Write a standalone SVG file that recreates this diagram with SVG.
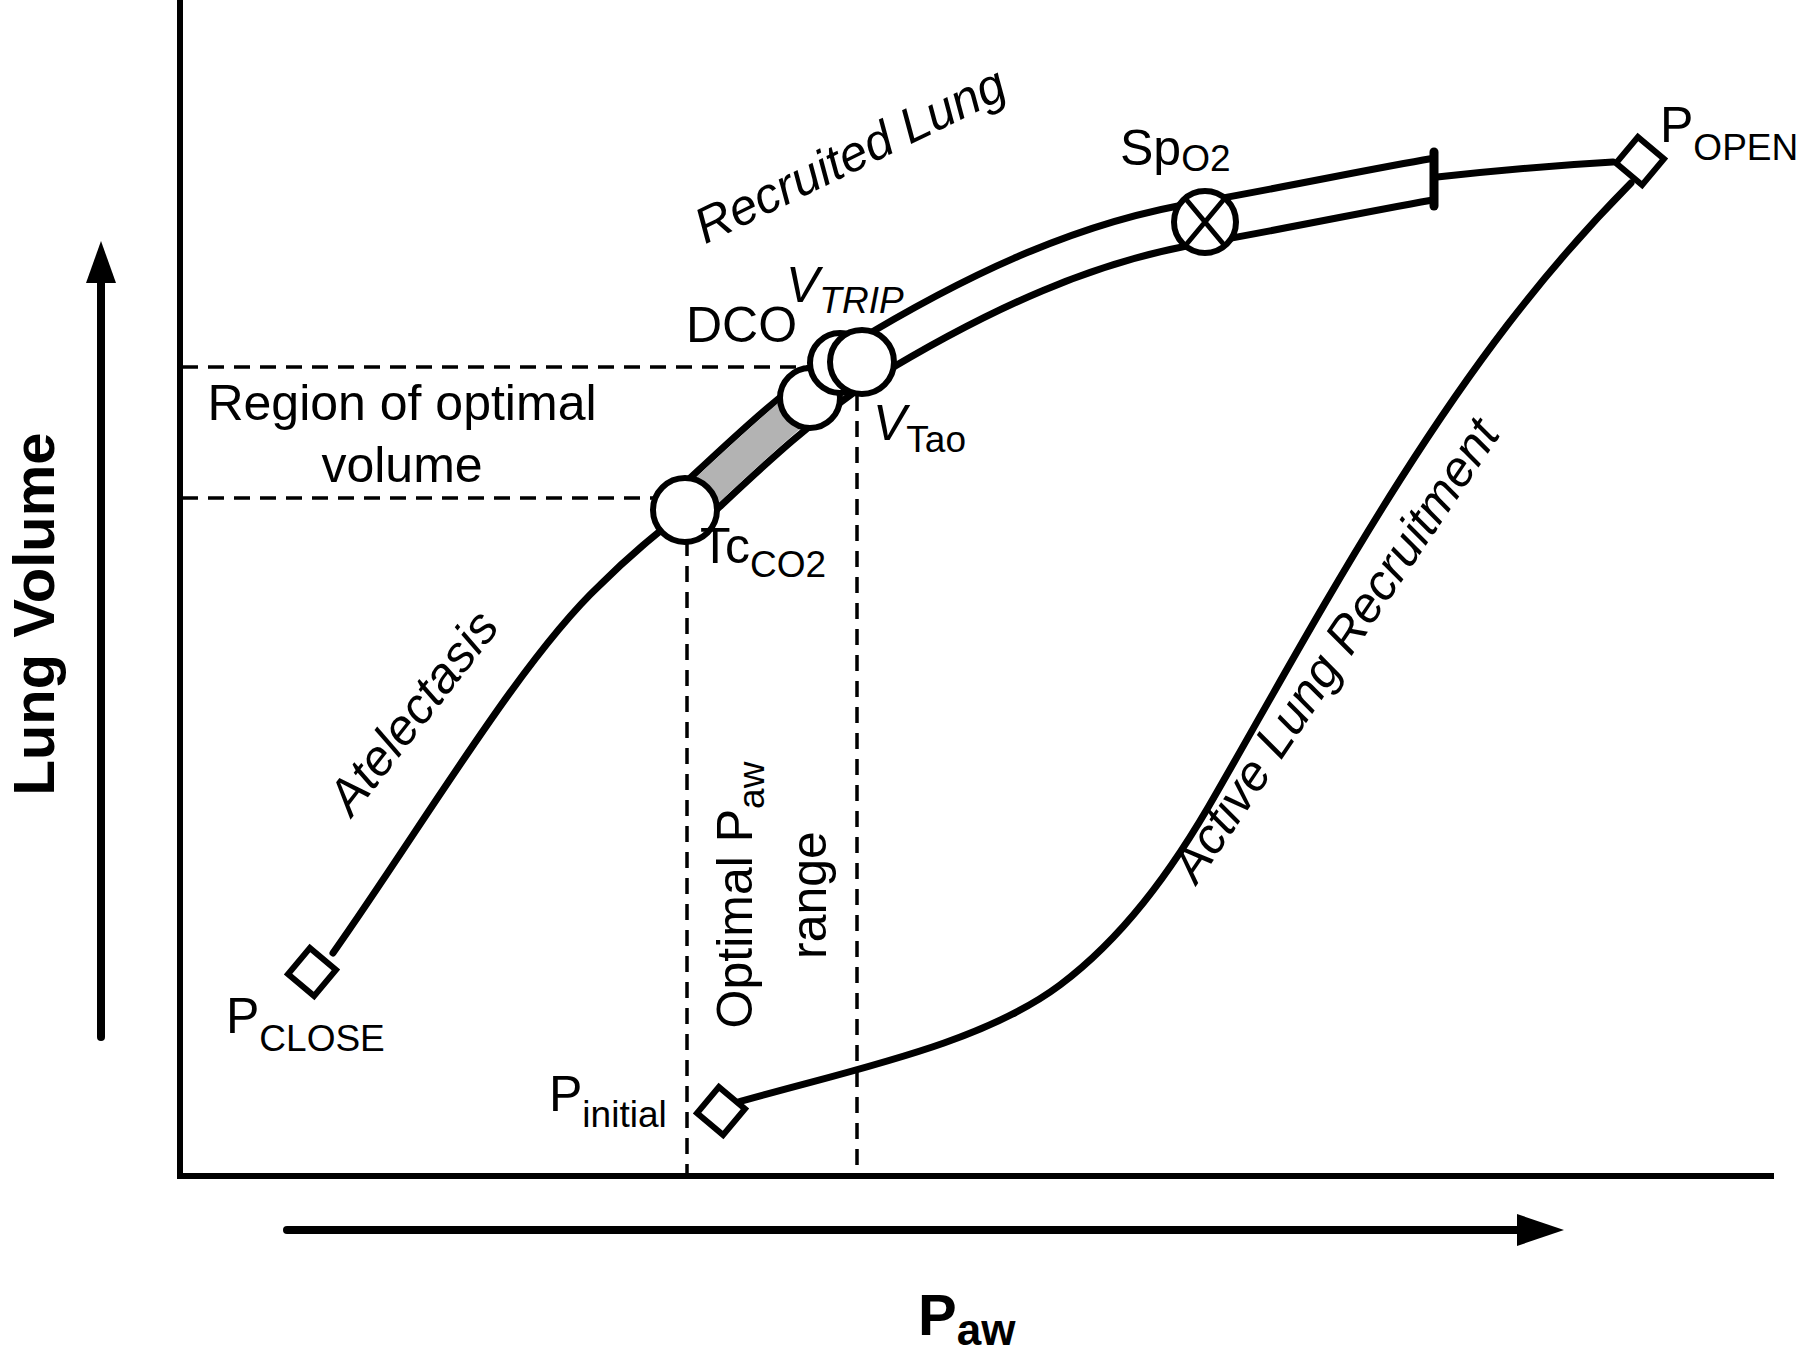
<svg xmlns="http://www.w3.org/2000/svg" width="1800" height="1362" viewBox="0 0 1800 1362">
<style>
text{font-family:"Liberation Sans",Arial,sans-serif;fill:#000}
.t{font-size:50px}.s{font-size:37px}.i{font-style:italic}
.ln{fill:none;stroke:#000;stroke-width:7;stroke-linecap:round}
.d{fill:none;stroke:#000;stroke-width:3.5;stroke-dasharray:16,10}
.c{fill:#fff;stroke:#000;stroke-width:6}
</style>
<rect width="1800" height="1362" fill="#fff"/>
<g id="axes">
<path d="M180,0V1176H1774" fill="none" stroke="#000" stroke-width="6"/>
<path d="M101,1037V270" stroke="#000" stroke-width="8" stroke-linecap="round"/>
<path d="M101,241L86,283H116Z"/>
<path d="M287,1230H1525" stroke="#000" stroke-width="8" stroke-linecap="round"/>
<path d="M1564,1230L1517,1214V1246Z"/>
<text x="34" y="614" font-size="58" font-weight="bold" text-anchor="middle" transform="rotate(-90 34 614)" dy="20">Lung Volume</text>
<text x="918" y="1335" font-size="58" font-weight="bold">P<tspan font-size="44" dy="10">aw</tspan></text>
</g>
<g id="connectors">
<path class="d" d="M182,367H815M182,498H660M687,540V1176M857,395V1176"/>
<path class="ln" d="M333,953C420,830 520,660 600,585C630,555 655,535 685,511"/>
<path d="M685,511C740,460 790,410 862,362C980,290 1090,240 1205,222C1300,205 1380,188 1434,179" fill="none" stroke="#000" stroke-width="48"/>
<path d="M685,511C740,460 790,410 862,362C980,290 1090,240 1205,222C1300,205 1380,188 1434,179" fill="none" stroke="#fff" stroke-width="34"/>
<path d="M685,511C720,478 760,440 810,398" fill="none" stroke="#b3b3b3" stroke-width="34"/>
<path d="M1434,152V206" stroke="#000" stroke-width="9" stroke-linecap="round"/>
<path class="ln" d="M1437,177C1500,170 1560,165 1613,162"/>
<path class="ln" d="M1631,183C1540,275 1470,370 1400,480C1330,590 1270,700 1217,792C1170,875 1120,940 1060,985C980,1045 850,1070 735,1103"/>
</g>
<g id="pclose"><rect x="295" y="955" width="34" height="34" class="c" transform="rotate(40 312 972)"/>
<text class="t" x="226" y="1033">P<tspan class="s" dy="18">CLOSE</tspan></text></g>
<g id="pinitial"><rect x="704" y="1094" width="34" height="34" class="c" transform="rotate(40 721 1111)"/>
<text class="t" x="549" y="1111">P<tspan class="s" dy="16">initial</tspan></text></g>
<g id="popen"><rect x="1623" y="144" width="34" height="34" class="c" transform="rotate(40 1640 161)"/>
<text class="t" x="1660" y="142">P<tspan class="s" dy="18">OPEN</tspan></text></g>
<g id="tcco2"><circle cx="685" cy="510" r="32" class="c"/>
<text class="t" x="700" y="563">Tc<tspan class="s" dy="14">CO2</tspan></text></g>
<g id="dco"><circle cx="810" cy="398" r="30" class="c"/>
<text class="t" x="686" y="342">DCO</text></g>
<g id="vtao"><circle cx="840" cy="363" r="30" class="c"/>
<text class="t i" x="873" y="440">V<tspan class="s" font-style="normal" dy="12">Tao</tspan></text></g>
<g id="vtrip"><circle cx="862" cy="362" r="32" class="c"/>
<text class="t i" x="786" y="302">V<tspan class="s" dy="11">TRIP</tspan></text></g>
<g id="spo2"><circle cx="1205" cy="222" r="31" class="c"/>
<path d="M1185,198L1225,246M1225,198L1185,246" stroke="#000" stroke-width="5"/>
<text class="t" x="1120" y="165">Sp<tspan class="s" dy="6">O2</tspan></text></g>
<g id="labels">
<text class="t i" x="850" y="172" text-anchor="middle" transform="rotate(-26 850 155)">Recruited Lung</text>
<text class="t" x="402" y="420" text-anchor="middle">Region of optimal</text>
<text class="t" x="402" y="482" text-anchor="middle">volume</text>
<text class="t i" x="413" y="729" text-anchor="middle" transform="rotate(-52 413 712)">Atelectasis</text>
<text class="t" x="735" y="912" text-anchor="middle" transform="rotate(-90 735 895)">Optimal P<tspan class="s" dy="12">aw</tspan></text>
<text class="t" x="809" y="912" text-anchor="middle" transform="rotate(-90 809 895)">range</text>
<text class="t i" x="1335" y="667" text-anchor="middle" transform="rotate(-56 1335 650)">Active Lung Recruitment</text>
</g>
</svg>
